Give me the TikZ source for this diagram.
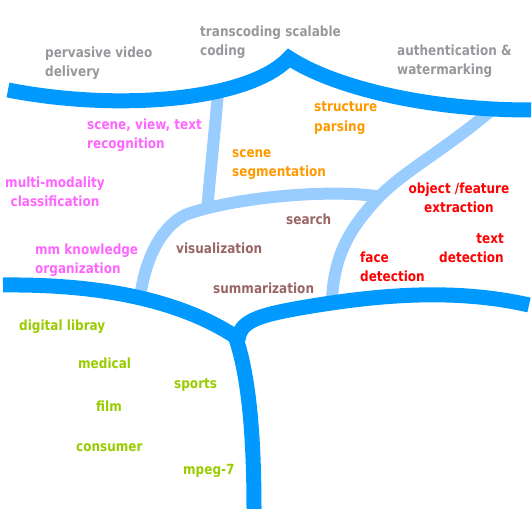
\documentclass[tikz,border=0pt]{standalone}
\usepackage{fontspec}
\setmainfont{DejaVu Sans}[FakeStretch=0.86]

\definecolor{trunkblue}{HTML}{0099FF}
\definecolor{twigblue}{HTML}{99CCFF}
\definecolor{greytxt}{HTML}{9A979C}
\definecolor{pinktxt}{HTML}{FF66FF}
\definecolor{orangetxt}{HTML}{FF9900}
\definecolor{redtxt}{HTML}{FF0000}
\definecolor{browntxt}{HTML}{996666}
\definecolor{greentxt}{HTML}{99CC00}

\tikzset{
  trunk/.style={line width=15pt, draw=trunkblue},
  twig/.style={line width=12pt, draw=twigblue},
  lbl/.style={inner sep=0pt, anchor=base west, align=left,
    font=\fontsize{14}{19}\selectfont\bfseries},
}

\begin{document}
\begin{tikzpicture}[x=1pt, y=-1pt]
	\useasboundingbox (0,0) rectangle (532,508);
	
	% light branches
	\draw[twig] (218,92) .. controls (214,140) and (210,175) .. (207,212);
	\draw[twig] (382,197) .. controls (330,188) and (230,198) .. (185,215)
		.. controls (160,228) and (145,260) .. (140,298);
	\draw[twig] (494,108) .. controls (445,150) and (405,170) .. (378,198)
		.. controls (350,228) and (334,255) .. (332,300);
	
	% main lines
	\draw[trunk] (8,90) .. controls (120,112) and (250,100) .. (289,58)
		.. controls (330,85) and (420,110) .. (531,110);
	\draw[trunk] (3,285) .. controls (100,284) and (180,300) .. (236,337);
	\draw[trunk] (234,333) .. controls (248,370) and (254,430) .. (254,510);
	\draw[trunk] (238,340) .. controls (240,322) and (255,316) .. (300,308)
		.. controls (370,296) and (450,287) .. (529,305);
	
	% labels (two-line ones sit on their last line)
	\node[lbl, greytxt] (pervasive) at (45,77) {pervasive video\\delivery};
	\node[lbl, greytxt] (transcoding) at (200,56) {transcoding scalable\\coding};
	\node[lbl, greytxt] (authentication) at (397,75) {authentication \&\\watermarking};
	
	\node[lbl, pinktxt] (recognition) at (87,148) {scene, view, text\\recognition};
	\node[lbl, pinktxt, anchor=base, align=center] (modality) at (55,206) {multi-modality\\classification};
	\node[lbl, pinktxt] (knowledge) at (35,273) {mm knowledge\\organization};
	
	\node[lbl, orangetxt] (parsing) at (314,131) {structure\\parsing};
	\node[lbl, orangetxt] (segmentation) at (232,176) {scene\\segmentation};
	
	\node[lbl, redtxt, anchor=base, align=center] (object) at (459,212) {object /feature\\extraction};
	\node[lbl, redtxt, anchor=base east, align=right] (textdet) at (504,262) {text\\detection};
	\node[lbl, redtxt] (face) at (360,281) {face\\detection};
	
	\node[lbl, browntxt] (search) at (286,224) {search};
	\node[lbl, browntxt] (visualization) at (176,253) {visualization};
	\node[lbl, browntxt] (summarization) at (213,293) {summarization};
	
	\node[lbl, greentxt] (library) at (19,330) {digital libray};
	\node[lbl, greentxt] (medical) at (78,368) {medical};
	\node[lbl, greentxt] (sports) at (174,388) {sports};
	\node[lbl, greentxt] (film) at (96,411) {film};
	\node[lbl, greentxt] (consumer) at (76,451) {consumer};
	\node[lbl, greentxt] (mpeg) at (183,474) {mpeg-7};
\end{tikzpicture}
\end{document}
